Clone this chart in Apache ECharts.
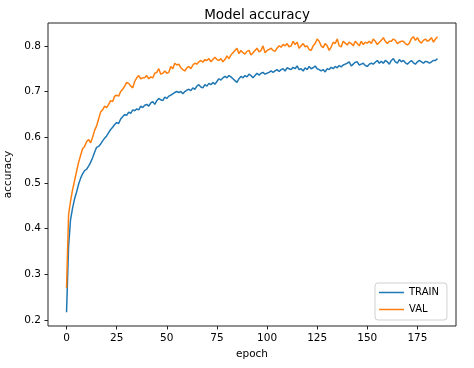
<!DOCTYPE html>
<html>
<head>
<meta charset="utf-8">
<script src="https://cdn.jsdelivr.net/npm/echarts@6/dist/echarts.min.js"></script>
<style>html,body{margin:0;padding:0;background:#fff}#c{width:474px;height:368px}</style>
</head>
<body>
<div id="c"></div>
<script>
const trainAcc = [
0.217,0.36,0.42,0.445,0.465,0.48,0.497,0.51,0.52,0.527,
0.53,0.537,0.545,0.555,0.567,0.578,0.58,0.585,0.592,0.598,
0.603,0.61,0.617,0.622,0.628,0.632,0.63,0.64,0.645,0.65,
0.648,0.655,0.652,0.66,0.658,0.662,0.66,0.668,0.665,0.67,
0.672,0.668,0.675,0.678,0.672,0.68,0.685,0.682,0.68,0.688,
0.685,0.69,0.692,0.695,0.698,0.70,0.698,0.70,0.695,0.70,
0.703,0.705,0.702,0.708,0.705,0.712,0.715,0.71,0.708,0.715,
0.712,0.718,0.715,0.72,0.716,0.722,0.728,0.725,0.73,0.733,
0.73,0.735,0.732,0.728,0.724,0.72,0.728,0.733,0.73,0.735,
0.732,0.738,0.735,0.73,0.735,0.74,0.736,0.74,0.742,0.738,
0.74,0.742,0.745,0.742,0.745,0.748,0.744,0.748,0.75,0.745,
0.752,0.75,0.748,0.753,0.75,0.756,0.748,0.75,0.745,0.752,
0.748,0.755,0.75,0.752,0.756,0.75,0.748,0.745,0.748,0.743,
0.75,0.748,0.753,0.75,0.755,0.752,0.757,0.754,0.758,0.76,
0.762,0.765,0.756,0.76,0.764,0.765,0.758,0.76,0.762,0.757,
0.755,0.76,0.762,0.76,0.764,0.768,0.762,0.766,0.762,0.768,
0.765,0.76,0.768,0.772,0.765,0.762,0.77,0.765,0.768,0.763,
0.76,0.764,0.768,0.763,0.76,0.765,0.768,0.765,0.762,0.766,
0.765,0.762,0.765,0.768,0.768,0.772
];
const valAcc = [
0.27,0.43,0.46,0.485,0.505,0.525,0.545,0.56,0.575,0.58,
0.59,0.595,0.588,0.60,0.615,0.625,0.64,0.655,0.66,0.668,
0.665,0.672,0.68,0.678,0.69,0.692,0.69,0.70,0.705,0.712,
0.72,0.718,0.712,0.708,0.722,0.73,0.735,0.728,0.73,0.73,
0.735,0.728,0.732,0.73,0.74,0.742,0.75,0.738,0.74,0.745,
0.74,0.742,0.755,0.75,0.762,0.758,0.76,0.752,0.748,0.745,
0.752,0.755,0.75,0.758,0.762,0.76,0.765,0.768,0.764,0.77,
0.768,0.772,0.765,0.77,0.775,0.77,0.768,0.772,0.765,0.77,
0.778,0.772,0.78,0.785,0.79,0.795,0.783,0.79,0.785,0.782,
0.788,0.79,0.78,0.785,0.79,0.795,0.787,0.79,0.80,0.785,
0.79,0.792,0.795,0.79,0.788,0.795,0.80,0.797,0.803,0.80,
0.805,0.798,0.80,0.81,0.803,0.808,0.795,0.80,0.805,0.798,
0.80,0.792,0.79,0.80,0.805,0.815,0.81,0.80,0.796,0.805,
0.80,0.79,0.798,0.808,0.805,0.815,0.80,0.798,0.81,0.806,
0.802,0.808,0.805,0.80,0.81,0.805,0.80,0.81,0.803,0.808,
0.806,0.81,0.805,0.815,0.81,0.803,0.808,0.812,0.818,0.81,
0.805,0.81,0.81,0.815,0.812,0.805,0.808,0.81,0.81,0.805,
0.802,0.806,0.816,0.82,0.812,0.818,0.81,0.806,0.812,0.815,
0.81,0.813,0.818,0.808,0.815,0.82
];
const xTicks = [0,25,50,75,100,125,150,175];
const yTicks = [0.2,0.3,0.4,0.5,0.6,0.7,0.8];
const seriesNames = ['TRAIN','VAL'];

const font = 'DejaVu Sans';
const toPairs = arr => arr.map((v,i)=>[i,v]);
const chart = echarts.init(document.getElementById('c'), null, {renderer:'canvas'});
chart.setOption({
  animation:false,
  backgroundColor:'#fff',
  title:{text:'Model accuracy', left:252, top:3, textAlign:'center',
    textStyle:{fontFamily:font,fontSize:13.5,fontWeight:'normal',color:'#000'}},
  grid:{left:48,right:18,top:23,bottom:42,containLabel:false,outerBoundsMode:'none',
    show:true,borderColor:'#222',borderWidth:1,backgroundColor:'transparent'},
  legend:{orient:'vertical', left:375, top:283, data:seriesNames,
    icon:'rect', itemWidth:25, itemHeight:1.5, itemGap:4,
    padding:[3,8,4,4], backgroundColor:'#fff', borderColor:'#d0d0d0', borderWidth:1, borderRadius:3,
    textStyle:{fontFamily:font,fontSize:10,color:'#000',lineHeight:13}},
  xAxis:{type:'value', min:-9.25, max:194.25, name:'epoch', nameLocation:'middle', nameGap:22,
    nameTextStyle:{fontFamily:font,fontSize:10.5,color:'#000'},
    axisLine:{show:false,onZero:false}, splitLine:{show:false},
    axisTick:{show:true,length:3.5,inside:false,customValues:xTicks,lineStyle:{color:'#222'}},
    axisLabel:{customValues:xTicks,fontFamily:font,fontSize:10.5,color:'#000',margin:7}},
  yAxis:{type:'value', min:0.187, max:0.850, name:'accuracy', nameLocation:'middle', nameGap:28,
    nameTextStyle:{fontFamily:font,fontSize:10.5,color:'#000'},
    axisLine:{show:false,onZero:false}, splitLine:{show:false},
    axisTick:{show:true,length:3.5,inside:false,customValues:yTicks,lineStyle:{color:'#222'}},
    axisLabel:{customValues:yTicks,fontFamily:font,fontSize:10.5,color:'#000',margin:7,
      formatter:v=>v.toFixed(1)}},
  series:[
    {name:seriesNames[0], type:'line', data:toPairs(trainAcc), showSymbol:false, symbol:'none',
      lineStyle:{color:'#1f77b4',width:1.5}, itemStyle:{color:'#1f77b4'}},
    {name:seriesNames[1], type:'line', data:toPairs(valAcc), showSymbol:false, symbol:'none',
      lineStyle:{color:'#ff7f0e',width:1.5}, itemStyle:{color:'#ff7f0e'}}
  ]
});
</script>
</body>
</html>
